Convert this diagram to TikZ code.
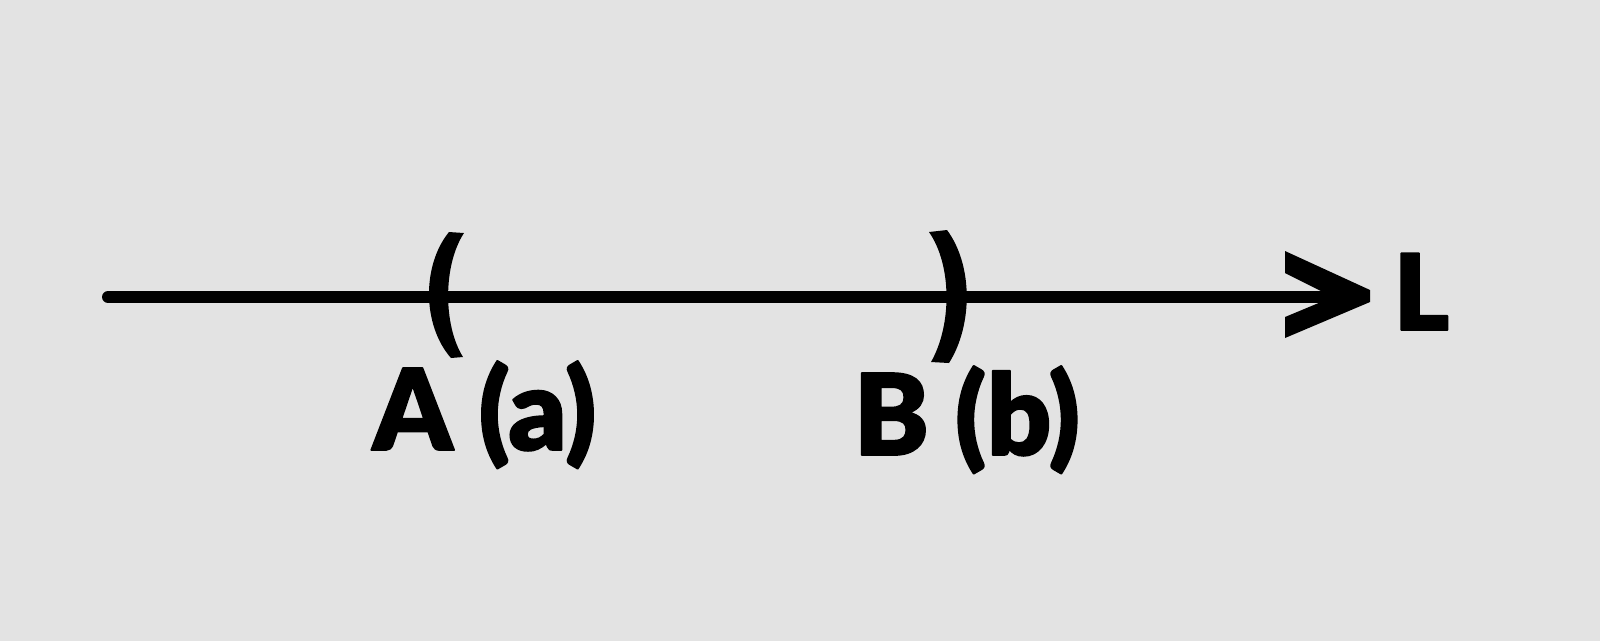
\documentclass[tikz,border=0pt]{standalone}
\usepackage{fontspec}
\newfontfamily\labelfont{Lato Black}[FakeBold=1.5]
\usepackage{tikz}
\usetikzlibrary{positioning}
\usetikzlibrary{calc}
\definecolor{bggray}{RGB}{227,227,227}

\begin{document}
\begin{tikzpicture}[x=0.01cm,y=-0.01cm,line cap=round,line join=round,
  axisline/.style={line width=3.4pt,color=black},
  pointlabel/.style={inner sep=0pt,font=\labelfont\fontsize{32}{32}\selectfont},
  bracket/.style={fill=black,draw=none}]
\fill[bggray] (0,0) rectangle (1600,641);
\useasboundingbox (0,0) rectangle (1600,641);
\coordinate (start) at (108,297);
\coordinate (tip) at (1370,296);
\draw [axisline] (start)-- ($(tip)+(-37,1)$);
\fill [black] (tip) ++(0,-6) -- ++(-85,-39) -- ++(0,22) -- ++(48,24) -- ++(-48,20) -- ++(0,21) -- ++(85,-36) -- cycle;
\fill [bracket] (449,232) .. controls (422,265) and (422,325) .. (451,358) -- (463,357) .. controls (443,325) and (443,265) .. (464,233) -- cycle;
\fill [bracket] (947,230) .. controls (973,265) and (973,325) .. (949,363) -- (931,362) .. controls (952,325) and (952,265) .. (929,232) -- cycle;
\node [pointlabel,anchor=base west] (labA) at (372,450) {A (a)};
\node [pointlabel,anchor=base west] (labB) at (853,455) {B (b)};
\node [pointlabel,anchor=base west,font=\labelfont\fontsize{30}{30}\selectfont] (labL) at (1393,330) {L};
\end{tikzpicture}
\end{document}
